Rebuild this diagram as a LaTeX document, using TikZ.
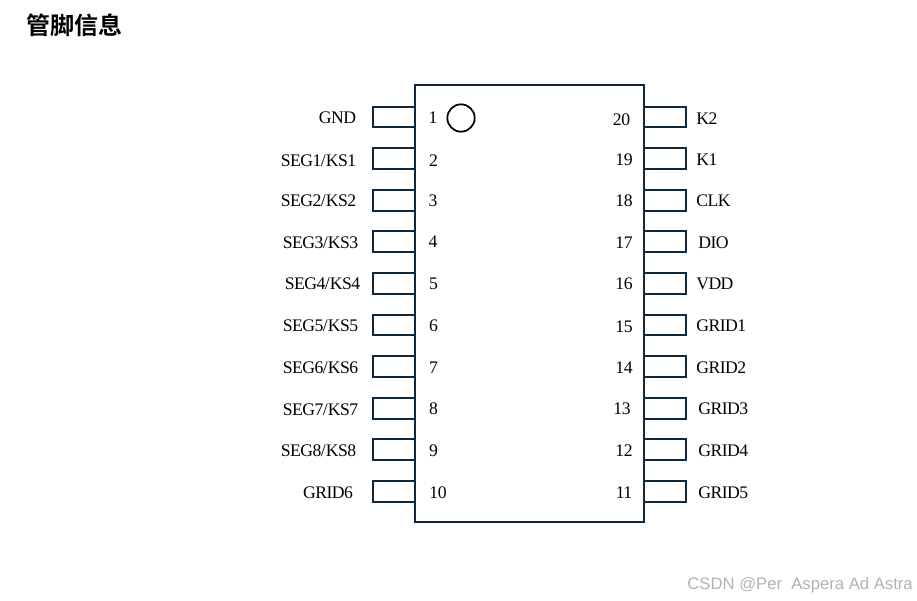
\documentclass[tikz,border=0pt]{standalone}
\usepackage{fontspec}
\setmainfont[LetterSpace=-3]{Liberation Serif}
\newfontfamily\cjkbold[BoldFont={Noto Sans CJK SC Bold}]{Noto Sans CJK SC}
\newfontfamily\wmfont{Liberation Sans}
\definecolor{chipline}{HTML}{10273D}
\tikzset{
  x=0.75pt,y=-0.75pt,
  chip/.style={draw=chipline,line width=1.5pt,inner sep=0pt,minimum width=171.75pt,minimum height=327.75pt},
  pinbox/.style={draw=chipline,line width=1.5pt,inner sep=0pt,minimum width=31.5pt,minimum height=15.5pt},
  mark1/.style={circle,draw=black,line width=1.3pt,inner sep=0pt,minimum size=20.5pt},
  lab/.style={font=\fontsize{13.25pt}{14pt}\selectfont,text=black,inner sep=0pt,anchor=base},
  labl/.style={lab,anchor=base west},
  title/.style={font=\cjkbold\bfseries\fontsize{18pt}{20pt}\selectfont,inner sep=0pt,anchor=west},
  wm/.style={font=\wmfont\fontsize{12.5pt}{14pt}\selectfont,text=black!30,inner sep=0pt,anchor=east}
}
\begin{document}
\begin{tikzpicture}
\useasboundingbox (0,0) rectangle (917,600);
\node[title] (head) at (26,25.5) {管脚信息};
\foreach \n/\y/\t/\tx/\ty/\nx/\ny in {
 1/117/GND/337.5/117/433/117,
 2/158.6/SEG1\slash KS1/318.5/160/433.5/160,
 3/200.2/SEG2\slash KS2/318.5/200/433/200,
 4/241.8/SEG3\slash KS3/320.5/242/433/241,
 5/283.4/SEG4\slash KS4/322.5/283/433.5/283,
 6/325/SEG5\slash KS5/320.5/325/433.5/325,
 7/366.6/SEG6\slash KS6/320.5/367/433.5/367,
 8/408.2/SEG7\slash KS7/320.5/409/433.5/408,
 9/449.8/SEG8\slash KS8/318.5/450/433.5/450,
 10/491.4/GRID6/328/492/438/492}{
  \node[pinbox] (pl\n) at (393.5,\y) {};
  \node[lab] (tl\n) at (\tx,\ty+6) {\t};
  \node[lab] (nl\n) at (\nx,\ny+6) {\n};
}
\foreach \n/\y/\t/\tx/\ty/\nx/\ny in {
 20/117/K2/696/118/621.5/119,
 19/158.6/K1/696/159/624/159,
 18/200.2/CLK/696/200/624/200,
 17/241.8/DIO/698/242/624/242,
 16/283.4/VDD/696/283/624/283,
 15/325/GRID1/696/325/624/326,
 14/366.6/GRID2/696/367/624/367,
 13/408.2/GRID3/698/408/622/408,
 12/449.8/GRID4/698/450/624/450,
 11/491.4/GRID5/698/492/624/492}{
  \node[pinbox] (pr\n) at (665,\y) {};
  \node[labl] (tr\n) at (\tx,\ty+6) {\t};
  \node[lab] (nr\n) at (\nx,\ny+6) {\n};
}
\node[chip,fill=none] (body) at (529.5,303.5) {};
\node[mark1] (dot) at (461,118) {};
\node[wm] (mark) at (913,585) {CSDN @Per\ \ Aspera Ad Astra};
\end{tikzpicture}
\end{document}
